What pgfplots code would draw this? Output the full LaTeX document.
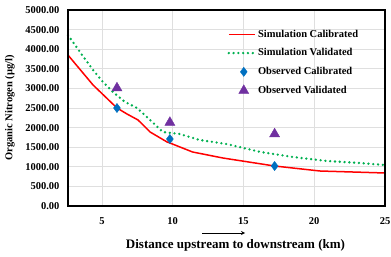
\documentclass[border=0pt]{standalone}
\usepackage{fontspec}
\setmainfont{Liberation Serif}
\usepackage{pgfplots}
\pgfplotsset{compat=1.18}
\definecolor{simred}{HTML}{FF0000}
\definecolor{simgreen}{HTML}{00B050}
\definecolor{obsblue}{HTML}{0070C0}
\definecolor{obspurple}{HTML}{7030A0}
\begin{document}
\begin{tikzpicture}
\path[use as bounding box] (-68pt,-51pt) rectangle (323pt,206pt);
\begin{axis}[
  at={(0pt,0pt)}, anchor=south west,
  scale only axis, width=317pt, height=196pt,
  xmin=2.6, xmax=25, ymin=0, ymax=5000,
  xtick={5,10,15,20,25}, ytick={0,500,...,5000},
  grid=major, major grid style={gray!25, line width=0.6pt},
  axis line style={black, line width=1.5pt},
  major tick length=0pt,
  /pgf/number format/assume math mode=true,
  yticklabel style={/pgf/number format/fixed, /pgf/number format/fixed zerofill, /pgf/number format/precision=2, /pgf/number format/1000 sep={}, xshift=-5pt},
  xticklabel style={/pgf/number format/fixed, /pgf/number format/precision=0, yshift=-8pt},
  ticklabel style={font=\bfseries\fontsize{10.5}{12}\selectfont},
  xlabel={\bfseries Distance upstream to downstream (km)},
  xlabel style={font=\fontsize{13}{15}\selectfont, at={(axis description cs:0.5,0)}, anchor=center, yshift=-39pt, xshift=9pt},
  ylabel={\bfseries Organic Nitrogen (µg/l)},
  ylabel style={font=\fontsize{10.5}{12}\selectfont, at={(axis description cs:-0.183,0.5)}, anchor=center},
  legend style={at={(0.493,0.92)}, anchor=north west, draw=none, fill=none,
    font=\bfseries\fontsize{10.5}{12}\selectfont, row sep=6pt,
    legend cell align=left},
  legend image code/.code={\draw[#1] (0pt,0pt) -- (26pt,0pt);},
  clip=false,
]
\addplot[simred, line width=1.5pt, no marks] coordinates {
(2.6,3850) (4.37,3087) (6.06,2500) (6.77,2347) (7.55,2194) (8.4,1888)
(9.6,1633) (9.8,1607) (11.4,1378) (13.55,1224) (17.2,1020) (20.4,893) (25,842)
};
\addlegendentry{Simulation Calibrated}
\addplot[simgreen, line width=2.6pt, line cap=round, dash pattern=on 0pt off 4.8pt, no marks] coordinates {
(2.6,4360) (3.5,3900) (4.37,3470) (5.07,3163) (5.78,2908) (6.63,2653) (7.48,2500)
(8.4,2194) (9.3,1888) (10.5,1837) (11.9,1684) (13.8,1582) (16.2,1378) (18.5,1250)
(20.9,1148) (23.2,1097) (25,1046)
};
\addlegendentry{Simulation Validated}
\addplot[only marks, mark=diamond*, mark size=4.6pt, mark options={fill=obsblue, draw=obsblue},
  legend image code/.code={\draw[mark=diamond*, mark size=4.6pt, mark options={fill=obsblue, draw=obsblue}] plot coordinates {(15pt,0pt)};}]
coordinates {(6.06,2500) (9.8,1710) (17.2,1020)};
\addlegendentry{Observed Calibrated}
\addplot[only marks, mark=triangle*, mark size=5.8pt, mark options={fill=obspurple, draw=obspurple},
  legend image code/.code={\draw[mark=triangle*, mark size=5.8pt, mark options={fill=obspurple, draw=obspurple}] plot coordinates {(15pt,0pt)};}]
coordinates {(6.06,3010) (9.8,2130) (17.2,1837)};
\addlegendentry{Observed Validated}
\end{axis}
\draw[black, line width=1.5pt] (0pt,0pt) -- (0pt,196pt) -- (317pt,196pt) -- (317pt,0pt) -- cycle;
\draw[-stealth, line width=0.8pt] (134pt,-27pt) -- (177pt,-27pt);
\end{tikzpicture}
\end{document}
